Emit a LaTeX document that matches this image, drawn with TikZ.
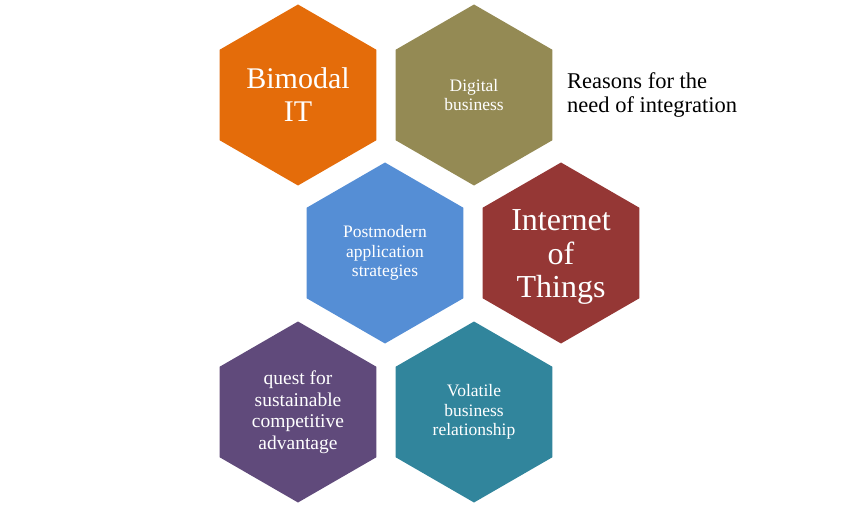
\documentclass[tikz,border=0pt]{standalone}
\usepackage{fontspec}
\setmainfont{Liberation Serif}
\usetikzlibrary{shapes.geometric}
\definecolor{cOr}{HTML}{E46C0A}
\definecolor{cOl}{HTML}{948A54}
\definecolor{cBl}{HTML}{558ED5}
\definecolor{cRd}{HTML}{953735}
\definecolor{cPu}{HTML}{604A7B}
\definecolor{cTe}{HTML}{31859C}
\tikzset{hexa/.style={regular polygon, regular polygon sides=6, shape border rotate=30, minimum size=181pt, inner sep=0pt, text=white, align=center},
big/.style={font=\fontsize{30}{33}\selectfont},
small/.style={font=\fontsize{17.5}{19.5}\selectfont}}
\begin{document}
\begin{tikzpicture}[x=1pt,y=-1pt]
\useasboundingbox (0,0) rectangle (865,508);
\node[hexa,fill=cOr,big] (h1) at (298,95) {Bimodal\\IT};
\node[hexa,fill=cOl,small] (h2) at (474,95) {Digital\\business};
\node[hexa,fill=cBl,small] (h3) at (385,253) {Postmodern\\application\\strategies};
\node[hexa,fill=cRd] (h4) at (561,253) {};
\node[text=white,align=center,font=\fontsize{32}{33.5}\selectfont] (h4t) at ([yshift=-4pt]h4.center) {Internet\\of\\Things};
\node[hexa,fill=cPu,font=\fontsize{19.5}{21.5}\selectfont] (h5) at (298,412) {quest for\\sustainable\\competitive\\advantage};
\node[hexa,fill=cTe,small] (h6) at (474,412) {Volatile\\business\\relationship};
\node[anchor=west,align=left,font=\fontsize{22.5}{24}\selectfont,inner sep=0pt] (t) at (567,95) {Reasons for the\\need of integration};
\end{tikzpicture}
\end{document}
